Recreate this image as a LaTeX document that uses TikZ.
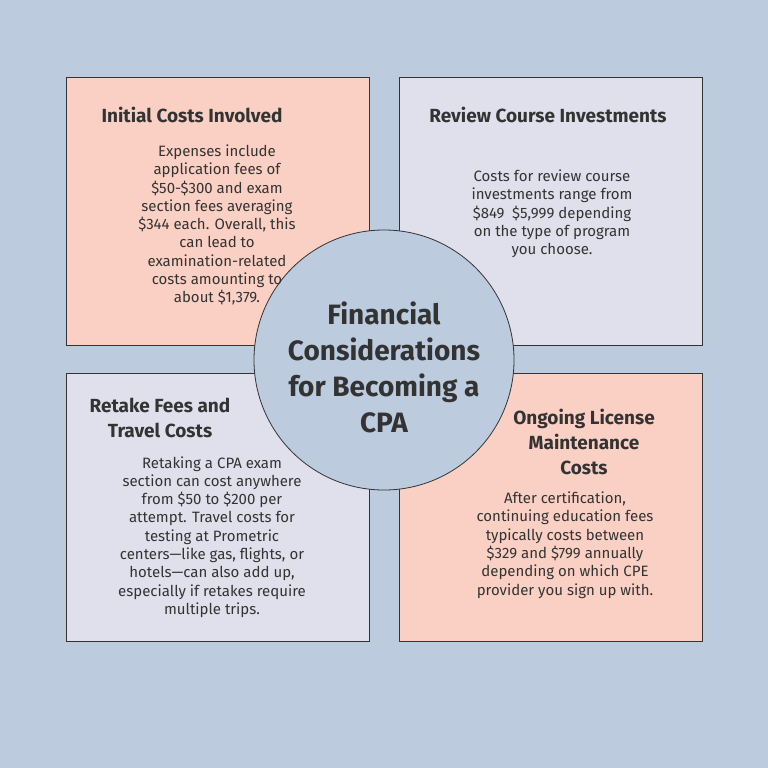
\documentclass[tikz,border=0pt]{standalone}
\usepackage{fontspec}
\setmainfont{Fira Sans}
\usetikzlibrary{positioning}
\definecolor{bgblue}{HTML}{BDCBDF}
\definecolor{salmon}{HTML}{FBD0C4}
\definecolor{lavender}{HTML}{E0E0EC}
\definecolor{ink}{HTML}{333333}
\tikzset{
  card/.style={draw=ink, line width=0.8pt},
  cardtitle/.style={font=\fontsize{19}{25}\selectfont\bfseries, text=ink, align=center},
  cardtext/.style={font=\fontsize{15}{18.3}\selectfont, text=ink, align=center}
}
\begin{document}
\begin{tikzpicture}[x=1pt,y=-1pt]
	\fill[bgblue] (0,0) rectangle (768,768);
	\useasboundingbox (0,0) rectangle (768,768);
	
	% four cards
	\draw[card, fill=salmon]   (66,77)   rectangle (369,345);
	\draw[card, fill=lavender] (399,77)  rectangle (702,345);
	\draw[card, fill=lavender] (66,373)  rectangle (369,641);
	\draw[card, fill=salmon]   (399,373) rectangle (702,641);
	
	% centre circle
	\draw[card, fill=bgblue] (384,360) circle (130);
	\node[font=\fontsize{28}{36}\selectfont\bfseries, text=ink, align=center] (hub) at (384,367)
		{Financial\\Considerations\\for Becoming a\\CPA};
	
	% top left
	\node[cardtitle] (initT) at (192,115) {Initial Costs Involved};
	\node[cardtext] (initB) at (217,225) {Expenses include\\application fees of\\\$50-\$300 and exam\\section fees averaging\\\$344 each. Overall, this\\can lead to\\examination-related\\costs amounting to\\about \$1,379.};
	
	% top right
	\node[cardtitle] (revT) at (548,115) {Review Course Investments};
	\node[cardtext] (revB) at (552,214) {Costs for review course\\investments range from\\\$849\enspace\$5,999 depending\\on the type of program\\you choose.};
	
	% bottom left
	\node[cardtitle] (retT) at (160,418) {Retake Fees and\\Travel Costs};
	\node[cardtext] (retB) at (212,537) {Retaking a CPA exam\\section can cost anywhere\\from \$50 to \$200 per\\attempt. Travel costs for\\testing at Prometric\\centers—like gas, flights, or\\hotels—can also add up,\\especially if retakes require\\multiple trips.};
	
	% bottom right
	\node[cardtitle] (ongT) at (584,442) {Ongoing License\\Maintenance\\Costs};
	\node[cardtext] (ongB) at (565,545) {After certification,\\continuing education fees\\typically costs between\\\$329 and \$799 annually\\depending on which CPE\\provider you sign up with.};
\end{tikzpicture}
\end{document}
